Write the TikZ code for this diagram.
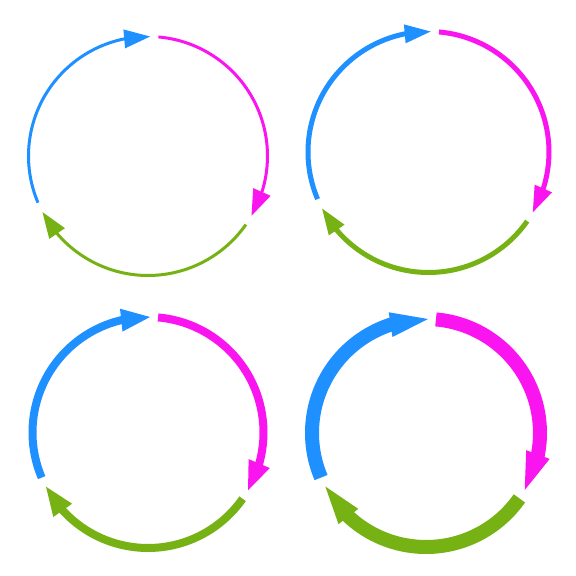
\documentclass[tikz,border=0pt]{standalone}
\usetikzlibrary{calc}
\definecolor{cblue}{RGB}{30,144,255}
\definecolor{cmag}{RGB}{250,20,240}
\definecolor{cgreen}{RGB}{118,178,20}
% one arrowed arc around centre (c), clockwise
% #1 colour, #2 start angle, #3 tip angle, #4 radius, #5 line width, #6 tip length, #7 tip width
\newcommand\cyclearc[7]{%
  \pgfmathsetmacro\bang{#3+#6/#4*57.2958}%
  \pgfmathsetmacro\hw{#7/2}%
  \draw[#1, line width=#5pt] (c) ++(#2:#4) arc[start angle=#2, end angle=\bang-1.5, radius=#4];
  \coordinate (tip) at ($(c)+(#3:#4)$);
  \coordinate (bk) at ($(c)+(\bang:#4)$);
  \fill[#1] (tip) -- ($(bk)!\hw pt!90:(tip)$) -- ($(bk)!\hw pt!-90:(tip)$) -- cycle;
}
% #1 cx, #2 cy, #3 radius, #4 line width, #5 tip length, #6 tip width
\newcommand\cyclering[6]{%
  \coordinate (c) at (#1,#2);
  \cyclearc{cblue}{203}{89}{#3}{#4}{#5}{#6}
  \cyclearc{cmag}{85}{-30}{#3}{#4}{#5}{#6}
  \cyclearc{cgreen}{-35}{-152}{#3}{#4}{#5}{#6}
}
\begin{document}
\begin{tikzpicture}[x=1pt,y=1pt,line cap=butt]
\useasboundingbox (0,0) rectangle (576,576);
\fill[white] (0,0) rectangle (576,576);
\cyclering{148}{420}{119.5}{3}{26}{19}
\cyclering{428.5}{424}{120.5}{5}{26}{19}
\cyclering{148}{143.5}{115.5}{8}{29}{23}
\cyclering{426}{143}{114}{14}{38}{25}
\end{tikzpicture}
\end{document}
